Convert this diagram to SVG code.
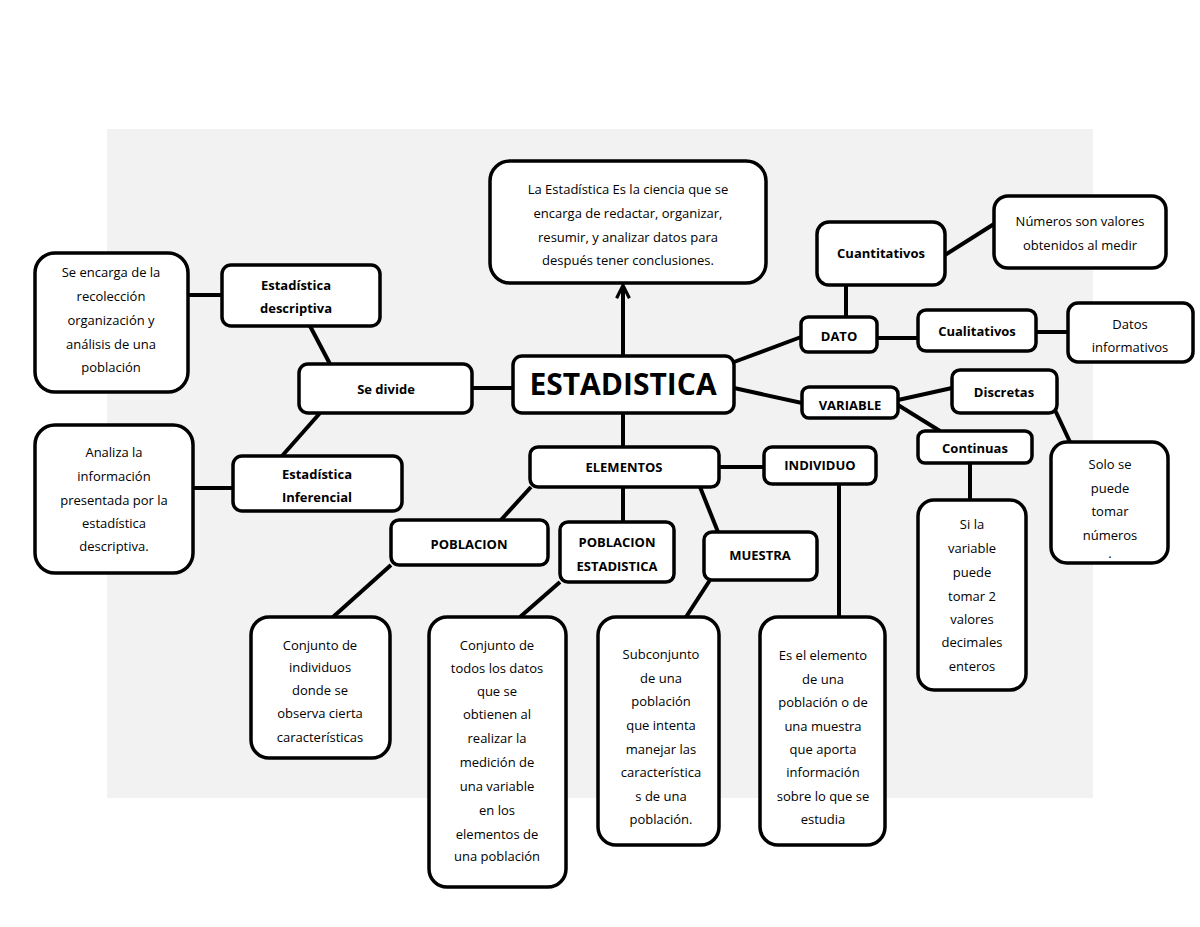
<svg xmlns="http://www.w3.org/2000/svg" width="1200" height="927" viewBox="0 0 1200 927">
<defs>
<style>
.n{fill:#fff;stroke:#000;stroke-width:3.5}
.t{font-family:"Open Sans","Liberation Sans",sans-serif;font-size:13px;text-anchor:middle;fill:#000}
.b{font-weight:bold}
.c line{stroke:#000;stroke-width:4}
</style>
<marker id="ar" viewBox="0 0 10 10" refX="8" refY="5" markerWidth="4" markerHeight="4" orient="auto"><path d="M1,1 L9,5 L1,9" fill="none" stroke="#000" stroke-width="2"/></marker>
</defs>
<rect width="1200" height="927" fill="#fff"/>
<rect x="107" y="129" width="986" height="669" fill="#f2f2f2"/>
<g class="c">
<line x1="623" y1="356" x2="623" y2="287" marker-end="url(#ar)"/>
<line x1="472" y1="388" x2="513" y2="388"/>
<line x1="188" y1="295" x2="222" y2="295"/>
<line x1="310" y1="326" x2="330" y2="364"/>
<line x1="320" y1="413" x2="282" y2="456"/>
<line x1="193" y1="488" x2="233" y2="488"/>
<line x1="623" y1="413" x2="623" y2="447"/>
<line x1="719" y1="467" x2="764" y2="467"/>
<line x1="531" y1="487" x2="500" y2="521"/>
<line x1="623" y1="487" x2="623" y2="522"/>
<line x1="700" y1="487" x2="718" y2="532"/>
<line x1="391" y1="565" x2="333" y2="617"/>
<line x1="560" y1="582" x2="520" y2="617"/>
<line x1="710" y1="580" x2="686" y2="617"/>
<line x1="839" y1="484" x2="839" y2="617"/>
<line x1="734" y1="362" x2="801" y2="337"/>
<line x1="734" y1="388" x2="802" y2="403"/>
<line x1="846" y1="317" x2="846" y2="285"/>
<line x1="945" y1="255" x2="994" y2="224"/>
<line x1="877" y1="338" x2="918" y2="338"/>
<line x1="1036" y1="332" x2="1068" y2="332"/>
<line x1="898" y1="400" x2="952" y2="388"/>
<line x1="898" y1="405" x2="940" y2="431"/>
<line x1="1055" y1="410" x2="1070" y2="442"/>
<line x1="970" y1="463" x2="970" y2="500"/>
</g>
<g id="def"><rect class="n" x="490" y="161" width="276" height="122" rx="20"/>
<text class="t" x="628" y="194">La Estadística Es la ciencia que se</text><text class="t" x="628" y="218">encarga de redactar, organizar,</text><text class="t" x="628" y="242">resumir, y analizar datos para</text><text class="t" x="628" y="265">después tener conclusiones.</text></g>
<g id="seencarga"><rect class="n" x="35" y="253" width="153" height="139" rx="20"/>
<text class="t" x="111" y="277">Se encarga de la</text><text class="t" x="111" y="301">recolección</text><text class="t" x="111" y="325">organización y</text><text class="t" x="111" y="349">análisis de una</text><text class="t" x="111" y="372">población</text></g>
<g id="desc"><rect class="n" x="222" y="265" width="158" height="61" rx="9"/>
<text class="t b" x="296" y="290">Estadística</text><text class="t b" x="296" y="313">descriptiva</text></g>
<g id="sedivide"><rect class="n" x="299" y="364" width="173" height="49" rx="9"/>
<text class="t b" x="386" y="394">Se divide</text></g>
<g id="estadistica"><rect class="n" x="513" y="356" width="221" height="57" rx="9"/>
<text class="t b" x="623" y="395" style="font-size:30px">ESTADISTICA</text></g>
<g id="analiza"><rect class="n" x="35" y="425" width="158" height="148" rx="20"/>
<text class="t" x="114" y="457">Analiza la</text><text class="t" x="114" y="481">información</text><text class="t" x="114" y="505">presentada por la</text><text class="t" x="114" y="528">estadística</text><text class="t" x="114" y="551">descriptiva.</text></g>
<g id="inf"><rect class="n" x="233" y="456" width="169" height="55" rx="9"/>
<text class="t b" x="317" y="479">Estadística</text><text class="t b" x="317" y="502">Inferencial</text></g>
<g id="elementos"><rect class="n" x="530" y="447" width="189" height="40" rx="8"/>
<text class="t b" x="624" y="472">ELEMENTOS</text></g>
<g id="individuo"><rect class="n" x="764" y="447" width="112" height="37" rx="8"/>
<text class="t b" x="820" y="470">INDIVIDUO</text></g>
<g id="poblacion"><rect class="n" x="391" y="520" width="157" height="45" rx="8"/>
<text class="t b" x="469" y="549">POBLACION</text></g>
<g id="pobest"><rect class="n" x="560" y="522" width="114" height="60" rx="8"/>
<text class="t b" x="617" y="547">POBLACION</text><text class="t b" x="617" y="571">ESTADISTICA</text></g>
<g id="muestra"><rect class="n" x="704" y="532" width="113" height="48" rx="8"/>
<text class="t b" x="760" y="560">MUESTRA</text></g>
<g id="conjind"><rect class="n" x="251" y="617" width="139" height="141" rx="18"/>
<text class="t" x="320" y="650">Conjunto de</text><text class="t" x="320" y="672">individuos</text><text class="t" x="320" y="695">donde se</text><text class="t" x="320" y="718">observa cierta</text><text class="t" x="320" y="742">características</text></g>
<g id="conjtodos"><rect class="n" x="429" y="617" width="137" height="270" rx="18"/>
<text class="t" x="497" y="650">Conjunto de</text><text class="t" x="497" y="673">todos los datos</text><text class="t" x="497" y="696">que se</text><text class="t" x="497" y="719">obtienen al</text><text class="t" x="497" y="743">realizar la</text><text class="t" x="497" y="767">medición de</text><text class="t" x="497" y="791">una variable</text><text class="t" x="497" y="815">en los</text><text class="t" x="497" y="839">elementos de</text><text class="t" x="497" y="861">una población</text></g>
<g id="subconj"><rect class="n" x="598" y="617" width="121" height="228" rx="18"/>
<text class="t" x="661" y="659">Subconjunto</text><text class="t" x="661" y="683">de una</text><text class="t" x="661" y="706">población</text><text class="t" x="661" y="730">que intenta</text><text class="t" x="661" y="754">manejar las</text><text class="t" x="661" y="777">característica</text><text class="t" x="661" y="801">s de una</text><text class="t" x="661" y="824">población.</text></g>
<g id="eselem"><rect class="n" x="760" y="617" width="125" height="228" rx="18"/>
<text class="t" x="823" y="660">Es el elemento</text><text class="t" x="823" y="684">de una</text><text class="t" x="823" y="707">población o de</text><text class="t" x="823" y="731">una muestra</text><text class="t" x="823" y="754">que aporta</text><text class="t" x="823" y="777">información</text><text class="t" x="823" y="801">sobre lo que se</text><text class="t" x="823" y="824">estudia</text></g>
<g id="cuanti"><rect class="n" x="817" y="222" width="128" height="63" rx="12"/>
<text class="t b" x="881" y="258">Cuantitativos</text></g>
<g id="numeros"><rect class="n" x="994" y="196" width="172" height="72" rx="14"/>
<text class="t" x="1080" y="226">Números son valores</text><text class="t" x="1080" y="250">obtenidos al medir</text></g>
<g id="dato"><rect class="n" x="801" y="317" width="76" height="35" rx="7"/>
<text class="t b" x="839" y="341">DATO</text></g>
<g id="cuali"><rect class="n" x="918" y="310" width="118" height="41" rx="8"/>
<text class="t b" x="977" y="336">Cualitativos</text></g>
<g id="datosinf"><rect class="n" x="1068" y="303" width="125" height="59" rx="10"/>
<text class="t" x="1130" y="329">Datos</text><text class="t" x="1130" y="352">informativos</text></g>
<g id="variable"><rect class="n" x="802" y="387" width="96" height="31" rx="7"/>
<text class="t b" x="850" y="410">VARIABLE</text></g>
<g id="discretas"><rect class="n" x="952" y="370" width="105" height="43" rx="8"/>
<text class="t b" x="1004" y="397">Discretas</text></g>
<g id="continuas"><rect class="n" x="918" y="431" width="114" height="32" rx="7"/>
<text class="t b" x="975" y="453">Continuas</text></g>
<g id="sila"><rect class="n" x="918" y="500" width="108" height="190" rx="16"/>
<text class="t" x="972" y="529">Si la</text><text class="t" x="972" y="553">variable</text><text class="t" x="972" y="577">puede</text><text class="t" x="972" y="601">tomar 2</text><text class="t" x="972" y="624">valores</text><text class="t" x="972" y="647">decimales</text><text class="t" x="972" y="671">enteros</text></g>
<g id="solo"><rect class="n" x="1051" y="442" width="117" height="121" rx="16"/>
<text class="t" x="1110" y="469">Solo se</text><text class="t" x="1110" y="493">puede</text><text class="t" x="1110" y="516">tomar</text><text class="t" x="1110" y="540">números</text><text class="t" x="1110" y="558">.</text></g>
</svg>
